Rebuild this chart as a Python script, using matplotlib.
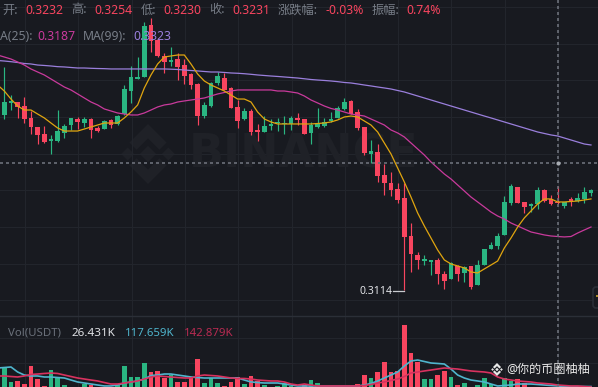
import numpy as np
import matplotlib
matplotlib.use("Agg")
import matplotlib.pyplot as plt
from matplotlib.patches import Polygon, FancyBboxPatch

# candles, from index -1 to 88: open, high, low, close
opens = [.3370,.3350,.3366,.3368,.3362,.3346,.3334,.3324,.3315,.3315,.3326,.3337,.3345,.3339,.3345,.3333,.3331,.3343,.3338,
         .3351,.3382,.3399,.3401,.3471,.3451,.3429,.3421,.3425,.3417,.3405,.3392,.3349,.3362,.3393,.3400,.3386,.3361,.3345,
         .3355,.3330,.3327,.3335,.3339,.3338,.3338,.3346,.3345,.3326,.3334,.3335,.3342,.3346,.3358,.3369,.3354,.3334,.3297,
         .3300,.3269,.3258,.3250,.3238,.3187,.3161,.3153,.3152,.3155,.3136,.3129,.3147,.3137,.3147,.3121,.3148,.3169,.3174,
         .3188,.3231,.3253,.3233,.3227,.3230,.3249,.3237,.3232,.3227,.3237,.3234,.3237,.3245]
highs = [.3377,.3415,.3377,.3368,.3374,.3355,.3334,.3335,.3323,.3357,.3338,.3346,.3347,.3347,.3346,.3335,.3343,.3345,.3350,
         .3390,.3416,.3428,.3475,.3481,.3454,.3434,.3442,.3434,.3425,.3407,.3393,.3368,.3394,.3408,.3407,.3388,.3370,.3359,
         .3358,.3338,.3349,.3345,.3346,.3349,.3349,.3353,.3345,.3341,.3359,.3346,.3354,.3362,.3373,.3370,.3358,.3334,.3316,
         .3311,.3284,.3273,.3258,.3258,.3205,.3165,.3161,.3155,.3157,.3140,.3152,.3148,.3147,.3147,.3155,.3169,.3179,.3191,
         .3241,.3257,.3253,.3233,.3231,.3253,.3250,.3242,.3254,.3233,.3240,.3245,.3253,.3250]
lows = [.3343,.3345,.3357,.3346,.3339,.3324,.3311,.3312,.3297,.3314,.3319,.3330,.3331,.3334,.3319,.3327,.3331,.3333,.3337,
        .3350,.3366,.3399,.3401,.3435,.3428,.3407,.3416,.3397,.3392,.3385,.3337,.3346,.3361,.3390,.3384,.3359,.3333,.3343,
        .3323,.3315,.3327,.3330,.3328,.3324,.3330,.3337,.3324,.3311,.3333,.3334,.3341,.3346,.3357,.3351,.3330,.3296,.3285,
        .3260,.3242,.3241,.3231,.3114,.3139,.3143,.3148,.3134,.3122,.3116,.3129,.3126,.3125,.3115,.3121,.3148,.3169,.3169,
        .3188,.3229,.3231,.3218,.3219,.3223,.3233,.3229,.3230,.3225,.3227,.3233,.3231,.3241]
closes = [.3347,.3368,.3369,.3361,.3345,.3334,.3323,.3314,.3318,.3328,.3335,.3346,.3341,.3345,.3330,.3328,.3342,.3337,.3349,
          .3385,.3401,.3401,.3470,.3450,.3429,.3421,.3424,.3415,.3403,.3390,.3349,.3364,.3393,.3403,.3384,.3359,.3342,.3355,
          .3327,.3327,.3335,.3338,.3341,.3339,.3346,.3343,.3324,.3337,.3339,.3341,.3345,.3359,.3368,.3351,.3333,.3299,.3301,
          .3268,.3258,.3249,.3236,.3186,.3163,.3155,.3156,.3155,.3136,.3126,.3151,.3136,.3145,.3118,.3148,.3169,.3175,.3187,
          .3233,.3254,.3231,.3226,.3230,.3249,.3234,.3230,.3231,.3233,.3233,.3238,.3246,.3249]
# moving averages
ma7 = [.33904,.33823,.33715,.33621,.33567,.33567,.33513,.33460,.33392,.33325,.33284,.33284,.33284,.33311,.33338,.33365,.33392,
       .33392,.33392,.33460,.33540,.33635,.33864,.34039,.34187,.34281,.34295,.34308,.34308,.34187,.34052,.33958,.33904,.33864,
       .33823,.33769,.33715,.33715,.33675,.33540,.33446,.33406,.33379,.33379,.33379,.33379,.33379,.33379,.33385,.33392,.33406,
       .33433,.33473,.33486,.33473,.33419,.33365,.33271,.33123,.32975,.32786,.32597,.32395,.32180,.32005,.31843,.31681,.31547,
       .31493,.31466,.31439,.31385,.31372,.31426,.31479,.31533,.31708,.31843,.31991,.32113,.32207,.32301,.32369,.32369,.32328,
       .32328,.32335,.32341,.32355,.32369]
ma25 = [.34308,.34281,.34254,.34214,.34173,.34120,.34079,.34039,.33985,.33931,.33877,.33837,.33783,.33729,.33675,.33635,.33581,
        .33554,.33527,.33513,.33500,.33500,.33527,.33567,.33608,.33635,.33648,.33675,.33689,.33702,.33715,.33729,.33756,.33783,
        .33803,.33823,.33837,.33837,.33837,.33837,.33837,.33837,.33823,.33823,.33810,.33796,.33756,.33702,.33662,.33621,.33588,
        .33567,.33540,.33513,.33500,.33486,.33446,.33406,.33365,.33298,.33258,.33204,.33123,.33042,.32961,.32867,.32786,.32705,
        .32638,.32557,.32476,.32395,.32328,.32261,.32193,.32139,.32099,.32045,.32005,.31964,.31924,.31904,.31884,.31870,.31863,
        .31857,.31863,.31910,.31951,.31991]
ma99 = [.34234,.34227,.34218,.34207,.34194,.34187,.34173,.34167,.34160,.34151,.34147,.34140,.34133,.34133,.34129,.34126,.34124,
        .34120,.34120,.34120,.34120,.34120,.34120,.34120,.34120,.34120,.34117,.34113,.34106,.34099,.34093,.34086,.34079,.34079,
        .34073,.34066,.34062,.34056,.34048,.34039,.34032,.34025,.34019,.34012,.34005,.33998,.33988,.33978,.33971,.33965,.33958,
        .33949,.33938,.33931,.33918,.33904,.33891,.33877,.33864,.33850,.33830,.33810,.33783,.33756,.33729,.33702,.33675,.33648,
        .33621,.33594,.33567,.33540,.33513,.33486,.33460,.33433,.33406,.33379,.33352,.33325,.33298,.33271,.33251,.33231,.33217,
        .33190,.33163,.33136,.33109,.33096]
# volume, thousands of USDT
volume = [150,437,185,202,151,454,235,118,386,252,134,84,101,151,134,84,84,84,134,454,269,269,504,353,370,252,302,185,185,269,
          571,168,252,168,118,185,269,151,286,202,134,84,118,168,118,84,134,218,168,84,84,84,84,84,151,302,252,353,521,353,370,
          1142,672,521,235,235,302,370,269,134,168,84,134,252,151,84,252,202,235,168,84,84,101,84,26.431,84,84,84,84,84]
vol_ma_a = [420,428,437,353,302,286,286,269,269,260,252,218,185,168,151,134,118,118,134,168,185,202,235,294,302,319,319,302,
            286,269,260,252,252,252,252,252,252,218,185,176,168,168,168,151,134,118,118,118,118,118,118,118,118,118,118,134,160,
            202,252,302,353,454,538,554,529,504,496,487,403,302,252,218,202,185,151,118,126,134,151,151,151,143,134,126,118,109,
            109,109,109,109]
vol_ma_b = [286,286,277,269,286,311,319,328,336,328,302,277,252,235,218,202,176,151,151,168,185,202,235,269,286,277,269,260,
            252,252,286,302,294,286,269,252,244,244,235,218,210,202,202,185,151,134,151,134,118,118,118,118,118,118,118,126,143,
            168,185,210,235,277,336,353,370,386,403,420,411,403,386,370,361,353,336,269,235,218,202,193,185,168,160,151,134,126,
            118,118,109,101]
# header text
header = [(2,"开:"),(25,"0.3232"),(71,"高:"),(94,"0.3254"),(141,"低:"),(163,"0.3230"),(209,"收:"),(232,"0.3231"),
          (278,"涨跌幅:"),(325,"-0.03%"),(372,"振幅:"),(406,"0.74%")]
low_label = "0.3114"

W, H = 598, 387
BG = "#181a20"
GRID = "#22252c"
UP = "#2ab682"
DOWN = "#f8455f"
plt.rcParams['font.family'] = ['Noto Sans', 'Noto Sans CJK SC', 'DejaVu Sans']

fig = plt.figure(figsize=(W/100, H/100), dpi=100, facecolor=BG)
back = fig.add_axes([0, 0, 1, 1], zorder=0)
back.set_xlim(0, W); back.set_ylim(H, 0); back.axis('off')
front = fig.add_axes([0, 0, 1, 1], zorder=5)
front.set_xlim(0, W); front.set_ylim(H, 0); front.axis('off')

ax = fig.add_axes([0, 1-316/H, 1, 316/H], zorder=2)
vx = fig.add_axes([0, 0, 1, (H-316)/H], zorder=3)
for a in (ax, vx):
    a.patch.set_alpha(0)
    a.axis('off')
    a.set_xlim((0-4.3)/6.667, (W-4.3)/6.667)
ax.set_ylim(0.30792, 0.35049)
vx.set_ylim(100.8, 1293.6)

# grid
for gx in np.arange(25, 598, 53.3):
    back.plot([gx, gx], [0, H], color=GRID, lw=0.8)
for gy in [7, 43.5, 80, 117, 153.5, 190, 227, 263.5, 300, 337.5, 363]:
    back.plot([0, W], [gy, gy], color=GRID, lw=0.8)
back.plot([0, W], [316, 316], color="#2b2f37", lw=1.0)

# watermark
WM = "#1f2127"
back.text(304, 155, "BINANCE", color=WM, fontsize=33, fontweight='bold', ha='center', va='center',
          family=['DejaVu Sans'])
def logo(a, cx, cy, r, color, **kw):
    s = r*0.27
    a.add_patch(Polygon([(cx-s, cy), (cx, cy-s), (cx+s, cy), (cx, cy+s)], color=color, lw=0, **kw))
    for sx in (1, -1):
        d = r*0.68*sx
        a.add_patch(Polygon([(cx+d-s*sx*0.8, cy), (cx+d, cy-s*.8), (cx+d+s*.8*sx, cy), (cx+d, cy+s*.8)], color=color, lw=0, **kw))
    for sy in (1, -1):
        a.add_patch(Polygon([(cx-r*.62, cy+sy*r*.38), (cx, cy+sy*r), (cx+r*.62, cy+sy*r*.38), (cx+r*.38, cy+sy*r*.14),
                             (cx, cy+sy*r*.52), (cx-r*.38, cy+sy*r*.14)], color=color, lw=0, **kw))
logo(back, 148, 154, 30, WM)

# candles
n = len(closes)
idx = np.arange(n) - 1
o, h, l, c = map(np.array, (opens, highs, lows, closes))
colors = [UP if cc >= oo else DOWN for oo, cc in zip(o, c)]
ax.vlines(idx, l, h, colors=colors, lw=0.85, zorder=2)
ax.bar(idx, np.maximum(np.abs(c-o), 0.00012), bottom=np.minimum(o, c), width=0.74, color=colors, lw=0, zorder=3)
ax.plot(idx, ma99, color="#9a7fdc", lw=0.9, zorder=4)
ax.plot(idx, ma25, color="#c93a9c", lw=0.9, zorder=4)
ax.plot(idx, ma7, color="#e0a50f", lw=0.9, zorder=5)

# volume
vx.bar(idx, volume, width=0.74, color=colors, lw=0, zorder=2)
vx.plot(idx, vol_ma_a, color="#4fb5cd", lw=1.2, zorder=3)
vx.plot(idx, vol_ma_b, color="#d8325f", lw=1.2, zorder=4)

# crosshair
CH = "#6c7079"
front.plot([558, 558], [0, H], color=CH, lw=1.2, ls=(0, (1.8, 1.8)))
front.plot([0, W], [163, 163], color=CH, lw=1.2, ls=(0, (1.8, 1.8)))
front.plot([558], [163], 'o', ms=3, color="#a8acb3", mew=0)

# small handle at the right edge
front.add_patch(FancyBboxPatch((593, 287), 12, 21, boxstyle="round,pad=0,rounding_size=3",
                               fc=BG, ec="#2a2e36", lw=1.2))
front.plot([597], [296], 's', ms=2, color="#a88a2a", mew=0)

# text
GRAY = "#777d87"
for i, (x, s) in enumerate(header):
    front.text(x, 10, s, color=GRAY if i % 2 == 0 else DOWN, fontsize=8.8, va='center', ha='left')
front.text(0.5, 36, "A(25):", color=GRAY, fontsize=8.8, va='center')
front.text(37, 36, "0.3187", color="#c93a9c", fontsize=8.8, va='center')
front.text(83, 36, "MA(99):", color=GRAY, fontsize=8.8, va='center')
front.text(133, 36, "0.3323", color="#9a7fdc", fontsize=8.8, va='center')
front.text(8.5, 333, "Vol(USDT)", color="#6a707a", fontsize=8.2, va='center')
front.text(72, 333, "26.431K", color="#dfe1e5", fontsize=8.4, va='center', fontweight='bold')
front.text(125, 333, "117.659K", color="#4fb5cd", fontsize=8.2, va='center')
front.text(184, 333, "142.879K", color="#b92b52", fontsize=8.2, va='center')
front.text(359, 291, low_label, color="#e0e2e6", fontsize=7.5, va='center', fontweight='bold')
front.plot([393, 404], [291, 291], color="#c8cbd0", lw=0.9)
front.text(506.5, 369.5, "@你的币圈柚柚", color="#e8e8e8", fontsize=8.7, va='center')
logo(front, 497, 369.5, 6.5, "#e8e8e8")

fig.savefig("out.png", dpi=100, facecolor=BG)
